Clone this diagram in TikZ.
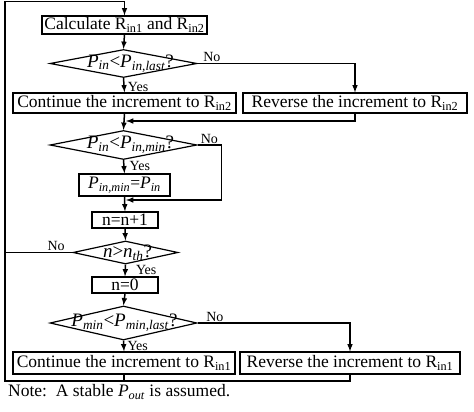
\documentclass[tikz,border=0pt]{standalone}
\usepackage{fontspec}
\setmainfont{Liberation Serif}
\usetikzlibrary{arrows,shapes.geometric}

\tikzset{
  caja/.style={draw, line width=1.2pt, inner sep=0pt, font=\fontsize{17.5}{20}\selectfont},
  decision/.style={diamond, draw, line width=1.2pt, inner sep=0pt, font=\fontsize{19}{21}\selectfont},
  flecha/.style={line width=1.5pt, -latex},
  linea/.style={line width=1.5pt},
  etiq/.style={font=\fontsize{14}{16}\selectfont, inner sep=1pt}
}
\newcommand{\Rin}[1]{R\textsubscript{in#1}}
\newcommand{\Pit}[1]{\textit{P}\textsubscript{\textit{#1}}}
\newcommand{\dtexto}[2]{\makebox[0pt]{\kern#1#2}}

\begin{document}
\begin{tikzpicture}[x=1pt,y=-1pt]
   \useasboundingbox (0,0) rectangle (474,412);

   %Cajas y rombos de la columna principal
   \node[caja, minimum width=165, minimum height=18] (calc) at (124.5,25) {Calculate \Rin{1} and \Rin{2}};
   \node[decision, minimum width=147, minimum height=28] (d1) at (123.5,63.5) {\dtexto{14pt}{\Pit{in}<\Pit{in,last}?}};
   \node[caja, minimum width=223, minimum height=20] (cont2) at (124.5,103) {Continue the increment to \Rin{2}};
   \node[caja, minimum width=224, minimum height=20] (rev2) at (355,103) {Reverse the increment to \Rin{2}};
   \node[decision, minimum width=147, minimum height=29] (d2) at (123.5,145) {\dtexto{14pt}{\Pit{in}<\Pit{in,min}?}};
   \node[caja, minimum width=91, minimum height=22] (pmin) at (124.5,185) {\Pit{in,min}=\Pit{in}};
   \node[caja, minimum width=66, minimum height=16] (inc) at (125,220) {n=n+1};
   \node[decision, minimum width=105, minimum height=23] (d3) at (125.5,252.5) {\dtexto{4pt}{\textit{n}>\textit{n}\textsubscript{\textit{th}}?}};
   \node[caja, minimum width=66, minimum height=16] (zero) at (125,285) {n=0};
   \node[decision, minimum width=147, minimum height=34] (d4) at (123.5,323) {\dtexto{2pt}{\Pit{min}<\Pit{min,last}?}};
   \node[caja, minimum width=222, minimum height=22] (cont1) at (124,363) {Continue the increment to \Rin{1}};
   \node[caja, minimum width=220, minimum height=22] (rev1) at (350,363) {Reverse the increment to \Rin{1}};

   %Nota
   \node[anchor=west, font=\fontsize{17.5}{20}\selectfont, inner sep=0pt] (nota) at (8,392) {Note:\ \ A stable \Pit{out} is assumed.};

   %Puntos de union
   \coordinate (m1) at (126,121);
   \coordinate (m2) at (126,200);
   \coordinate (abajo) at (5,381);
   \coordinate (arriba) at (5,1.5);

   %Primer rombo
   \draw[flecha] (calc.south) -- (d1.north);
   \draw[flecha] (d1.south) -- (cont2.north) node[etiq, anchor=west, pos=0.62, xshift=2pt] {Yes};
   \draw[flecha] (d1.east) -| (rev2.north) node[etiq, anchor=south west, at start, xshift=4pt] {No};
   \draw[flecha] (rev2.south) |- (m1);
   \draw[flecha] (cont2.south) -- (d2.north);

   %Segundo rombo
   \draw[flecha] (d2.south) -- (pmin.north) node[etiq, anchor=west, pos=0.47, xshift=4pt] {Yes};
   \draw[flecha] (d2.east) -- ++(24,0) |- (m2);
   \node[etiq, anchor=south west, xshift=2pt] at (d2.east) {No};
   \draw[flecha] (pmin.south) -- (inc.north);
   \draw[flecha] (inc.south) -- (d3.north);

   %Tercer rombo
   \draw[linea] (d3.west) -- (d3.west -| abajo) node[etiq, anchor=south east, at start, xshift=-6pt] {No};
   \draw[flecha] (d3.south) -- (zero.north) node[etiq, anchor=west, pos=0.42, xshift=9pt] {Yes};
   \draw[flecha] (zero.south) -- (d4.north);

   %Cuarto rombo
   \draw[flecha] (d4.south) -- (cont1.north) node[etiq, anchor=west, pos=0.5, xshift=2pt] {Yes};
   \draw[flecha] (d4.east) -| (rev1.north) node[etiq, anchor=south west, at start, xshift=7pt] {No};

   %Lazo de regreso
   \draw[linea] (cont1.south) -- (cont1.south |- abajo);
   \draw[flecha] (rev1.south) |- (abajo) -- (arriba) -| (calc.north);
\end{tikzpicture}
\end{document}
